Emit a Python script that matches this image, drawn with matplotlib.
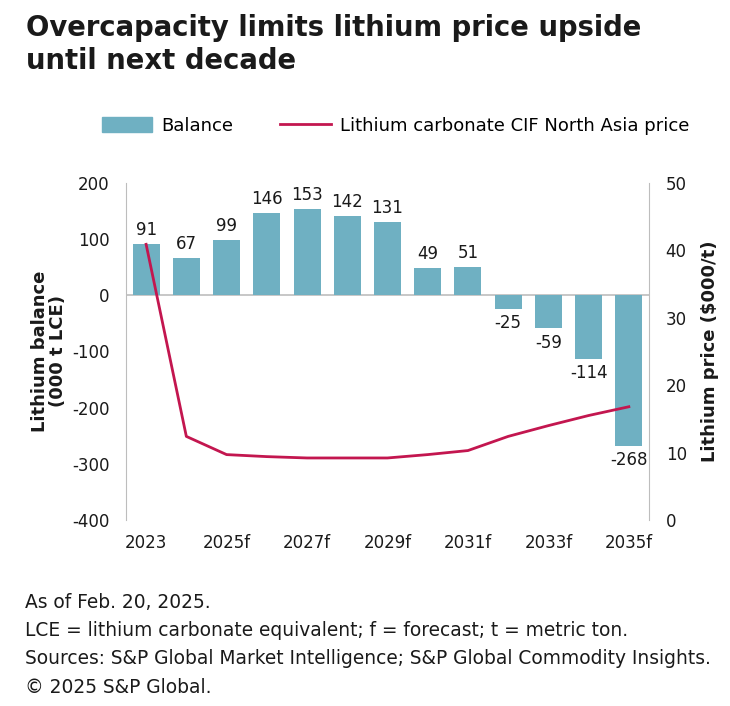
import matplotlib.pyplot as plt
from matplotlib.patches import Patch
from matplotlib.lines import Line2D

# --- data ---
years = ["2023", "2024f", "2025f", "2026f", "2027f", "2028f", "2029f",
         "2030f", "2031f", "2032f", "2033f", "2034f", "2035f"]
balance = [91, 67, 99, 146, 153, 142, 131, 49, 51, -25, -59, -114, -268]
price = [40.9, 12.4, 9.7, 9.4, 9.2, 9.2, 9.2, 9.7, 10.3, 12.4, 14.0, 15.5, 16.8]
tick_labels = ["2023", "2025f", "2027f", "2029f", "2031f", "2033f", "2035f"]

BAR = "#6fb0c2"
LINE = "#c3164f"
GRID = "#bdbdbd"
TXT = "#1a1a1a"

plt.rcParams['font.family'] = ['DejaVu Sans']
plt.rcParams['axes.unicode_minus'] = False

fig = plt.figure(figsize=(7.3, 7.06), dpi=100)
ax = fig.add_axes([0.1726, 0.2635, 0.889 - 0.1726, 0.7408 - 0.2635])
ax2 = ax.twinx()

x = list(range(len(years)))
ax.bar(x, balance, width=0.67, color=BAR, zorder=2)
ax.axhline(0, color=GRID, lw=1.2, zorder=1)

# value labels: above positive bars, below negative ones
for xi, v in zip(x, balance):
    if v >= 0:
        ax.text(xi, v + 9, str(v), ha='center', va='bottom', fontsize=12, color=TXT)
    else:
        ax.text(xi, v - 9, str(v), ha='center', va='top', fontsize=12, color=TXT)

ax2.plot(x, price, color=LINE, lw=2, zorder=3)

ax.set_xlim(-0.5, 12.5)
ax.set_ylim(-400, 200)
ax2.set_ylim(0, 50)
ax.set_yticks(range(-400, 201, 100))
ax2.set_yticks(range(0, 51, 10))
ax.set_xticks(x[::2])
ax.set_xticklabels(tick_labels)

for a in (ax, ax2):
    for s in ("top", "bottom", "left", "right"):
        a.spines[s].set_visible(False)
    a.tick_params(length=0, labelsize=12, colors=TXT)
ax.spines["left"].set_visible(True)
ax.spines["left"].set_color(GRID)
ax2.spines["right"].set_visible(True)
ax2.spines["right"].set_color(GRID)
ax.tick_params(axis='y', pad=12)
ax2.tick_params(axis='y', pad=12)
ax.tick_params(axis='x', pad=10)

ax.set_ylabel("Lithium balance\n(000 t LCE)", fontsize=13, fontweight='bold',
              color=TXT, linespacing=1.0)
ax.yaxis.set_label_coords(-0.113, 0.5)
ax2.set_ylabel("Lithium price ($000/t)", fontsize=13, fontweight='bold',
               color=TXT, labelpad=10)

# legend
handles = [Patch(color=BAR), Line2D([0], [0], color=LINE, lw=2)]
fig.legend(handles, ["Balance", "Lithium carbonate CIF North Asia price"],
           loc='center', bbox_to_anchor=(0.542, 0.822), ncol=2, frameon=False,
           fontsize=13, handlelength=2.8, handleheight=0.9, columnspacing=2.6,
           handletextpad=0.5)

fig.text(0.035, 0.98, "Overcapacity limits lithium price upside\nuntil next decade",
         fontsize=19.8, fontweight='bold', color=TXT, va='top', linespacing=1.22)

notes = ["As of Feb. 20, 2025.",
         "LCE = lithium carbonate equivalent; f = forecast; t = metric ton.",
         "Sources: S&P Global Market Intelligence; S&P Global Commodity Insights.",
         "\u00a9 2025 S&P Global."]
for i, n in enumerate(notes):
    fig.text(0.034, 1 - (602 + i * 28.5) / 706, n, fontsize=13.4, color=TXT, va='center')

fig.savefig("out.png", dpi=100)
